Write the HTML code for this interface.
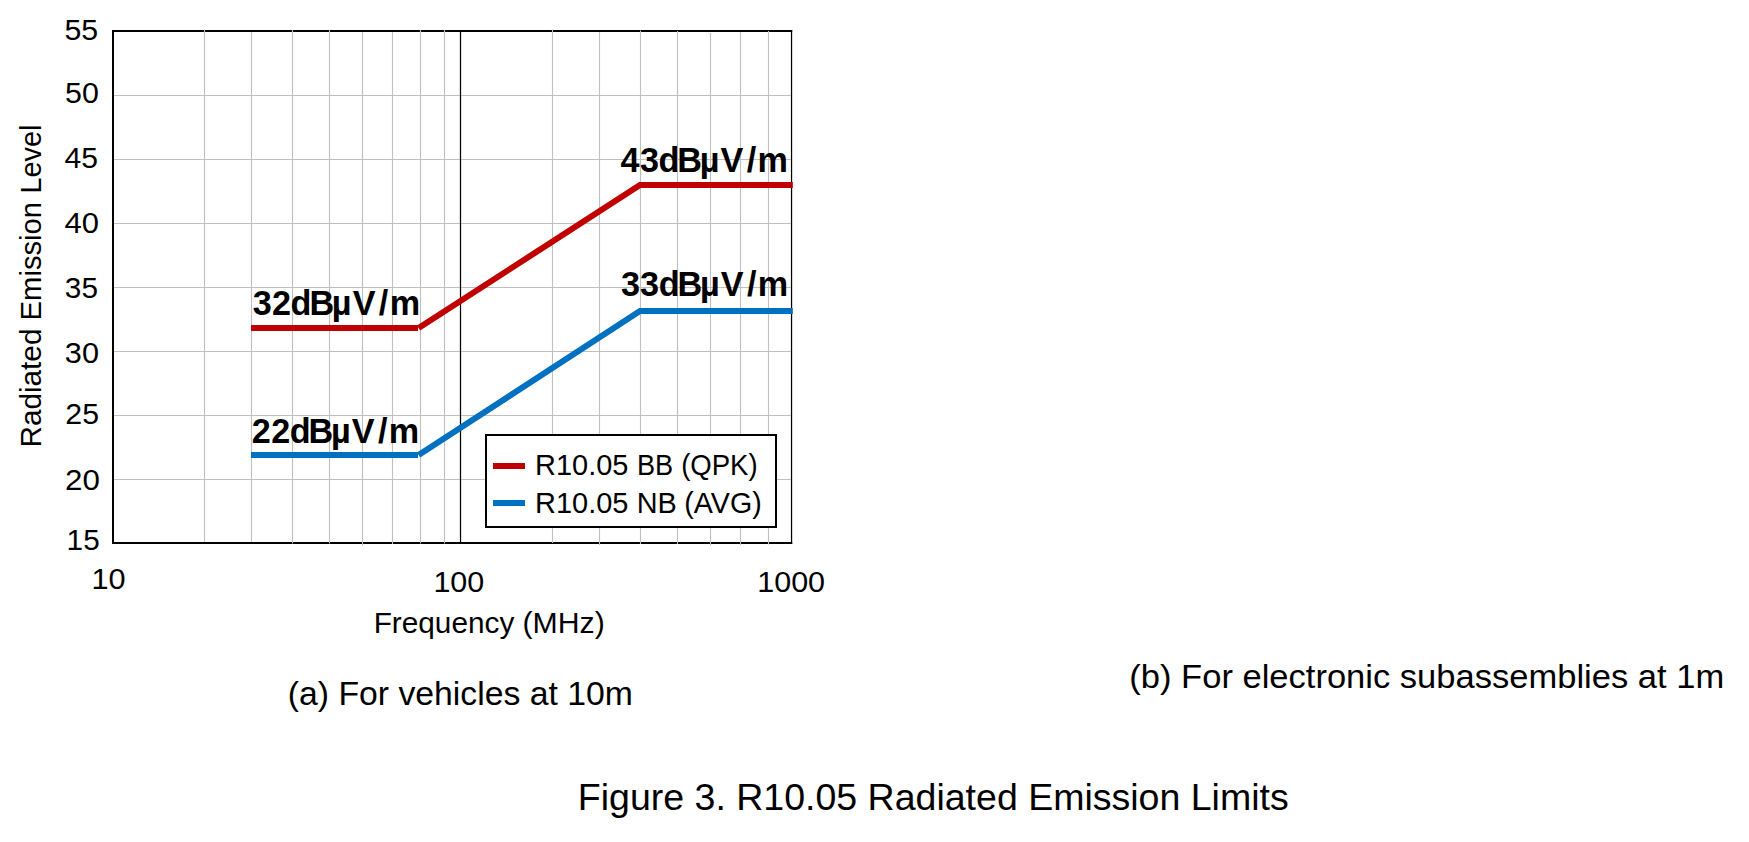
<!DOCTYPE html>
<html lang="en">
<head>
<meta charset="utf-8">
<title>Figure 3. R10.05 Radiated Emission Limits</title>
<style>
html,body{margin:0;padding:0;background:#fff;}
body{width:1749px;height:842px;overflow:hidden;position:relative;}
svg{position:absolute;left:0;top:0;display:block;}
text{font-family:"Liberation Sans",sans-serif;fill:#000;white-space:pre;}
.b{font-weight:bold;}
</style>
</head>
<body>
<svg width="1749" height="842" viewBox="0 0 1749 842">
<rect x="0" y="0" width="1749" height="842" fill="#ffffff"/>
<g stroke="#000" fill="none">
<line x1="113" y1="30" x2="113" y2="544" stroke-width="2"/>
<line x1="112" y1="31" x2="792.2" y2="31" stroke-width="2"/>
<line x1="112" y1="543" x2="792.2" y2="543" stroke-width="2"/>
<line x1="791.55" y1="30" x2="791.55" y2="544" stroke-width="1.25"/>
</g>
<g stroke="#bfbfbf" stroke-width="1.1" fill="none">
<line x1="114" y1="95.5" x2="791" y2="95.5"/>
<line x1="114" y1="159.5" x2="791" y2="159.5"/>
<line x1="114" y1="223.5" x2="791" y2="223.5"/>
<line x1="114" y1="287.5" x2="791" y2="287.5"/>
<line x1="114" y1="351.5" x2="791" y2="351.5"/>
<line x1="114" y1="415.5" x2="791" y2="415.5"/>
<line x1="114" y1="479.5" x2="791" y2="479.5"/>
<line x1="204.5" y1="29.5" x2="204.5" y2="542.0"/>
<line x1="251.5" y1="32.0" x2="251.5" y2="542.0"/>
<line x1="292.5" y1="30.0" x2="292.5" y2="543.5"/>
<line x1="329.5" y1="30.0" x2="329.5" y2="543.5"/>
<line x1="362.5" y1="32.0" x2="362.5" y2="545.5"/>
<line x1="392.5" y1="32.0" x2="392.5" y2="544.0"/>
<line x1="420.5" y1="30.0" x2="420.5" y2="543.5"/>
<line x1="444.5" y1="30.0" x2="444.5" y2="543.5"/>
<line x1="552.5" y1="29.5" x2="552.5" y2="543.0"/>
<line x1="599.5" y1="32.0" x2="599.5" y2="545.0"/>
<line x1="640.5" y1="30.5" x2="640.5" y2="544.0"/>
<line x1="677.5" y1="31.0" x2="677.5" y2="544.0"/>
<line x1="710.5" y1="33.0" x2="710.5" y2="545.5"/>
<line x1="740.5" y1="32.0" x2="740.5" y2="545.0"/>
<line x1="768.5" y1="31.0" x2="768.5" y2="544.5"/>
</g>
<line x1="460.5" y1="31" x2="460.5" y2="543" stroke="#000" stroke-width="1.25"/>
<g fill="none" stroke="#c00000" stroke-width="6">
<line x1="251" y1="328" x2="418" y2="328"/>
<polyline points="418.6,328 640,185 792.8,185" stroke-linejoin="miter"/>
</g>
<g fill="none" stroke="#0070c0" stroke-width="6">
<line x1="251" y1="455" x2="418" y2="455"/>
<polyline points="418.6,455 640,311 792.8,311" stroke-linejoin="miter"/>
</g>
<rect x="486" y="435" width="290" height="92" fill="#fff" stroke="#000" stroke-width="2"/>
<line x1="493" y1="466" x2="525" y2="466" stroke="#c00000" stroke-width="6"/>
<line x1="493" y1="503" x2="525" y2="503" stroke="#0070c0" stroke-width="6"/>
<text y="40.19" font-size="30.10"><tspan x="64.46" textLength="33.73" lengthAdjust="spacingAndGlyphs">55</tspan></text>
<text y="102.69" font-size="30.10"><tspan x="65.07" textLength="33.81" lengthAdjust="spacingAndGlyphs">50</tspan></text>
<text y="168.04" font-size="30.10"><tspan x="64.57" textLength="33.49" lengthAdjust="spacingAndGlyphs">45</tspan></text>
<text y="233.24" font-size="30.10"><tspan x="64.57" textLength="34.44" lengthAdjust="spacingAndGlyphs">40</tspan></text>
<text y="298.04" font-size="30.10"><tspan x="64.87" textLength="33.17" lengthAdjust="spacingAndGlyphs">35</tspan></text>
<text y="362.54" font-size="30.10"><tspan x="64.87" textLength="34.11" lengthAdjust="spacingAndGlyphs">30</tspan></text>
<text y="424.39" font-size="30.10"><tspan x="65.31" textLength="33.73" lengthAdjust="spacingAndGlyphs">25</tspan></text>
<text y="489.84" font-size="30.10"><tspan x="65.04" textLength="34.86" lengthAdjust="spacingAndGlyphs">20</tspan></text>
<text y="550.39" font-size="30.10"><tspan x="66.62" textLength="33.07" lengthAdjust="spacingAndGlyphs">15</tspan></text>
<text y="588.89" font-size="30.10"><tspan x="91.51" textLength="34.07" lengthAdjust="spacingAndGlyphs">10</tspan></text>
<text y="591.89" font-size="30.10"><tspan x="433.42" textLength="50.89" lengthAdjust="spacingAndGlyphs">100</tspan></text>
<text y="591.89" font-size="30.10"><tspan x="757.23" textLength="67.88" lengthAdjust="spacingAndGlyphs">1000</tspan></text>
<text class="b" x="252.74 272.03 290.53 309.38 331.86 352.69 378.85 389.68" y="314.60" font-size="34.20">32dBµV/m</text>
<text class="b" x="251.68 271.13 289.63 308.48 330.96 351.79 377.95 388.78" y="442.70" font-size="34.20">22dBµV/m</text>
<text class="b" x="620.40 639.92 658.43 677.28 699.76 720.59 746.75 757.58" y="171.80" font-size="34.20">43dBµV/m</text>
<text class="b" x="621.07 640.07 658.68 677.53 700.01 720.84 747.00 757.83" y="295.70" font-size="34.20">33dBµV/m</text>
<text y="474.85" font-size="30.40"><tspan x="535.08" textLength="93.37" lengthAdjust="spacingAndGlyphs">R10.05</tspan> <tspan x="636.91" textLength="36.27" lengthAdjust="spacingAndGlyphs">BB</tspan> <tspan x="681.14" textLength="76.53" lengthAdjust="spacingAndGlyphs">(QPK)</tspan></text>
<text y="512.85" font-size="30.40"><tspan x="535.08" textLength="93.37" lengthAdjust="spacingAndGlyphs">R10.05</tspan> <tspan x="636.63" textLength="40.12" lengthAdjust="spacingAndGlyphs">NB</tspan> <tspan x="684.33" textLength="77.38" lengthAdjust="spacingAndGlyphs">(AVG)</tspan></text>
<text y="632.85" font-size="29.80"><tspan x="373.66" textLength="140.64" lengthAdjust="spacingAndGlyphs">Frequency</tspan> <tspan x="522.53" textLength="82.29" lengthAdjust="spacingAndGlyphs">(MHz)</tspan></text>
<text y="704.90" font-size="33.50"><tspan x="287.79" textLength="345.21" lengthAdjust="spacingAndGlyphs">(a) For vehicles at 10m</tspan></text>
<text y="687.80" font-size="33.50"><tspan x="1129.34" textLength="594.81" lengthAdjust="spacingAndGlyphs">(b) For electronic subassemblies at 1m</tspan></text>
<text y="809.80" font-size="37.30"><tspan x="577.84" textLength="710.86" lengthAdjust="spacingAndGlyphs">Figure 3. R10.05 Radiated Emission Limits</tspan></text>
<text transform="translate(41.20,450.00) rotate(-90)" y="0" font-size="29.80"><tspan x="2.47" textLength="118.95" lengthAdjust="spacingAndGlyphs">Radiated</tspan> <tspan x="129.57" textLength="118.56" lengthAdjust="spacingAndGlyphs">Emission</tspan> <tspan x="256.40" textLength="69.04" lengthAdjust="spacingAndGlyphs">Level</tspan></text>
</svg>
</body>
</html>
